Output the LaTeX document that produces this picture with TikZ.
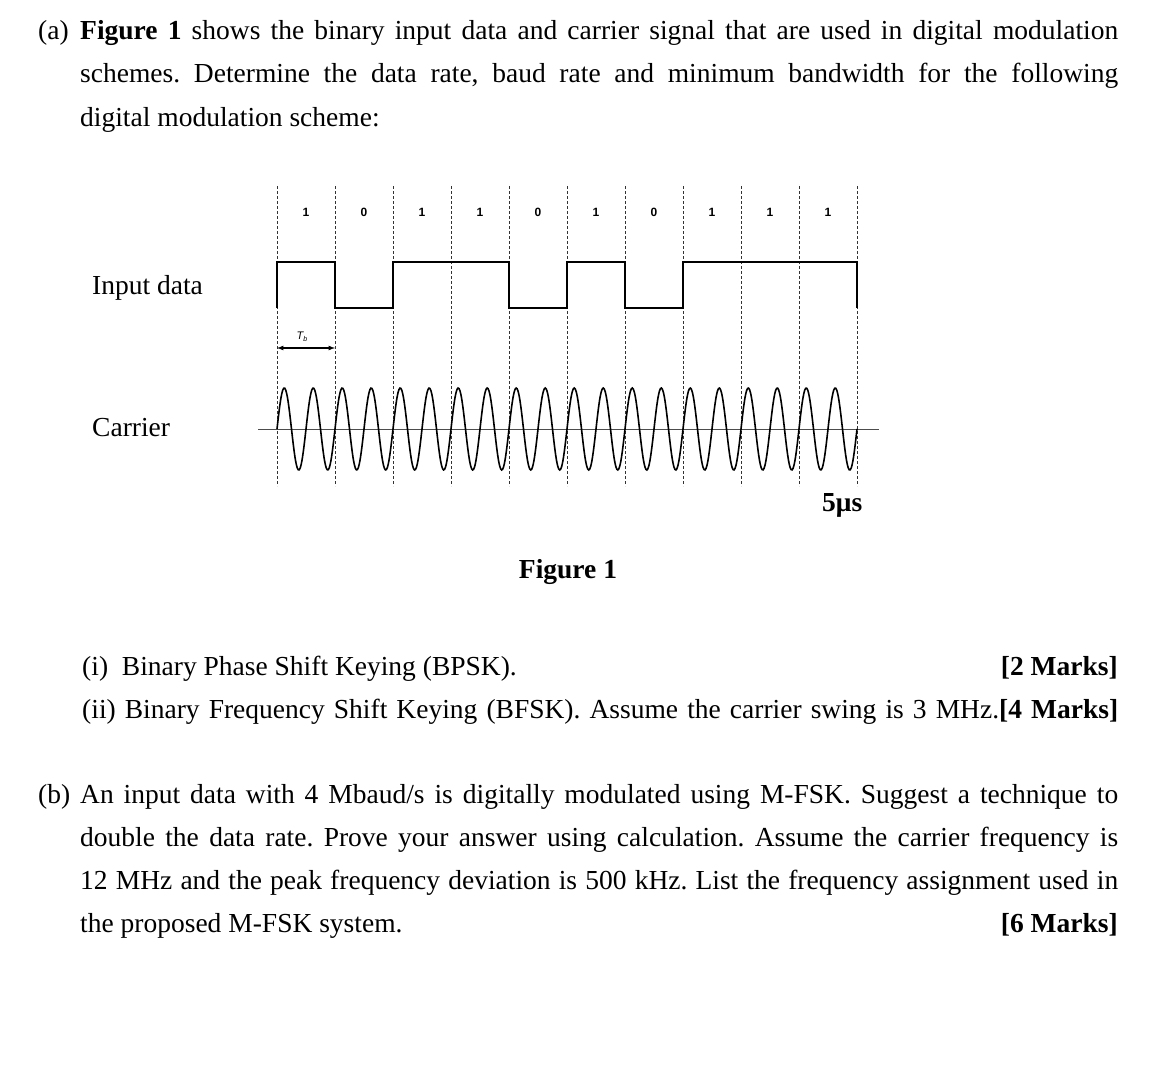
\documentclass[tikz,border=0pt]{standalone}
\usepackage{fontspec}
\setmainfont{Liberation Serif}
\newfontfamily\figsans{Liberation Sans}
\frenchspacing
\begin{document}
\begin{tikzpicture}[x=1pt,y=-1pt,
  txt/.style={anchor=base west,inner sep=0pt,font=\fontsize{27.5}{32}\selectfont},
  bold/.style={font=\fontsize{27.5}{32}\selectfont\bfseries},
  bitlbl/.style={font=\figsans\fontsize{12}{13}\selectfont\bfseries,inner sep=0pt},
  grid/.style={densely dashed,line width=0.7pt,black!80},
  sig/.style={line width=2pt}]
\useasboundingbox[fill=white] (0,0) rectangle (1168,1065);
% text paragraph (a)
\node[txt] (a1) at (38,40) {(a)};
\node[txt] (a2) at (80,40) {\makebox[1038pt][s]{\textbf{Figure 1} shows the binary input data and carrier signal that are used in digital modulation}};
\node[txt] (a3) at (80,83) {\makebox[1038pt][s]{schemes. Determine the data rate, baud rate and minimum bandwidth for the following}};
\node[txt] (a4) at (80,126) {digital modulation scheme:};
% labels
\node[txt] (in) at (92,294) {Input data};
\node[txt] (ca) at (92,436) {Carrier};
% grid
\foreach \i in {0,...,10}{
  \draw[grid] ({277+58*\i},186) -- ({277+58*\i},486);
}
\foreach \b [count=\i from 0] in {1,0,1,1,0,1,0,1,1,1}{
  \node[bitlbl] (b\i) at ({306+58*\i},212) {\b};
}
% data signal
\draw[sig] (277,308) -- (277,262) -- (335,262) -- (335,308) -- (393,308) -- (393,262)
  -- (509,262) -- (509,308) -- (567,308) -- (567,262) -- (625,262) -- (625,308)
  -- (683,308) -- (683,262) -- (857,262) -- (857,308);
% Tb
\coordinate (tb1) at (277,348);
\coordinate (tb2) at (335,348);
\draw[-latex,line width=1.2pt] (306,348) -- (tb1);
\draw[-latex,line width=1.2pt] (306,348) -- (tb2);
\node[font=\figsans\itshape\fontsize{11}{12}\selectfont,inner sep=0pt] (tb) at (302,337) {T\raisebox{-2pt}{\scriptsize b}};
% carrier
\draw[line width=0.9pt,black!70] (258,429) -- (879,429);
\draw[line width=1.6pt] plot[domain=0:580,samples=600,smooth] ({\x+277},{429-41*sin(12.41379*\x)});
\node[txt,bold] (us) at (822,511) {5μs};
\node[txt,bold,anchor=base] (f1) at (568,578) {Figure 1};
% (i) (ii)
\node[txt] (i1) at (82,675) {(i)\ \ Binary Phase Shift Keying (BPSK).};
\node[txt,bold,anchor=base east] (i2) at (1118,675) {[2 Marks]};
\node[txt] (ii) at (82,718) {\makebox[1036pt][s]{(ii) Binary Frequency Shift Keying (BFSK). Assume the carrier swing is 3 MHz.\textbf{[4 Marks]}}};
% (b)
\node[txt] (b1) at (38,803) {(b)};
\node[txt] (b2) at (80,803) {\makebox[1038pt][s]{An input data with 4 Mbaud/s is digitally modulated using M-FSK. Suggest a technique to}};
\node[txt] (b3) at (80,846) {\makebox[1038pt][s]{double the data rate. Prove your answer using calculation. Assume the carrier frequency is}};
\node[txt] (b4) at (80,889) {\makebox[1038pt][s]{12 MHz and the peak frequency deviation is 500 kHz. List the frequency assignment used in}};
\node[txt] (b5) at (80,932) {the proposed M-FSK system.};
\node[txt,bold,anchor=base east] (b6) at (1118,932) {[6 Marks]};
\end{tikzpicture}
\end{document}
